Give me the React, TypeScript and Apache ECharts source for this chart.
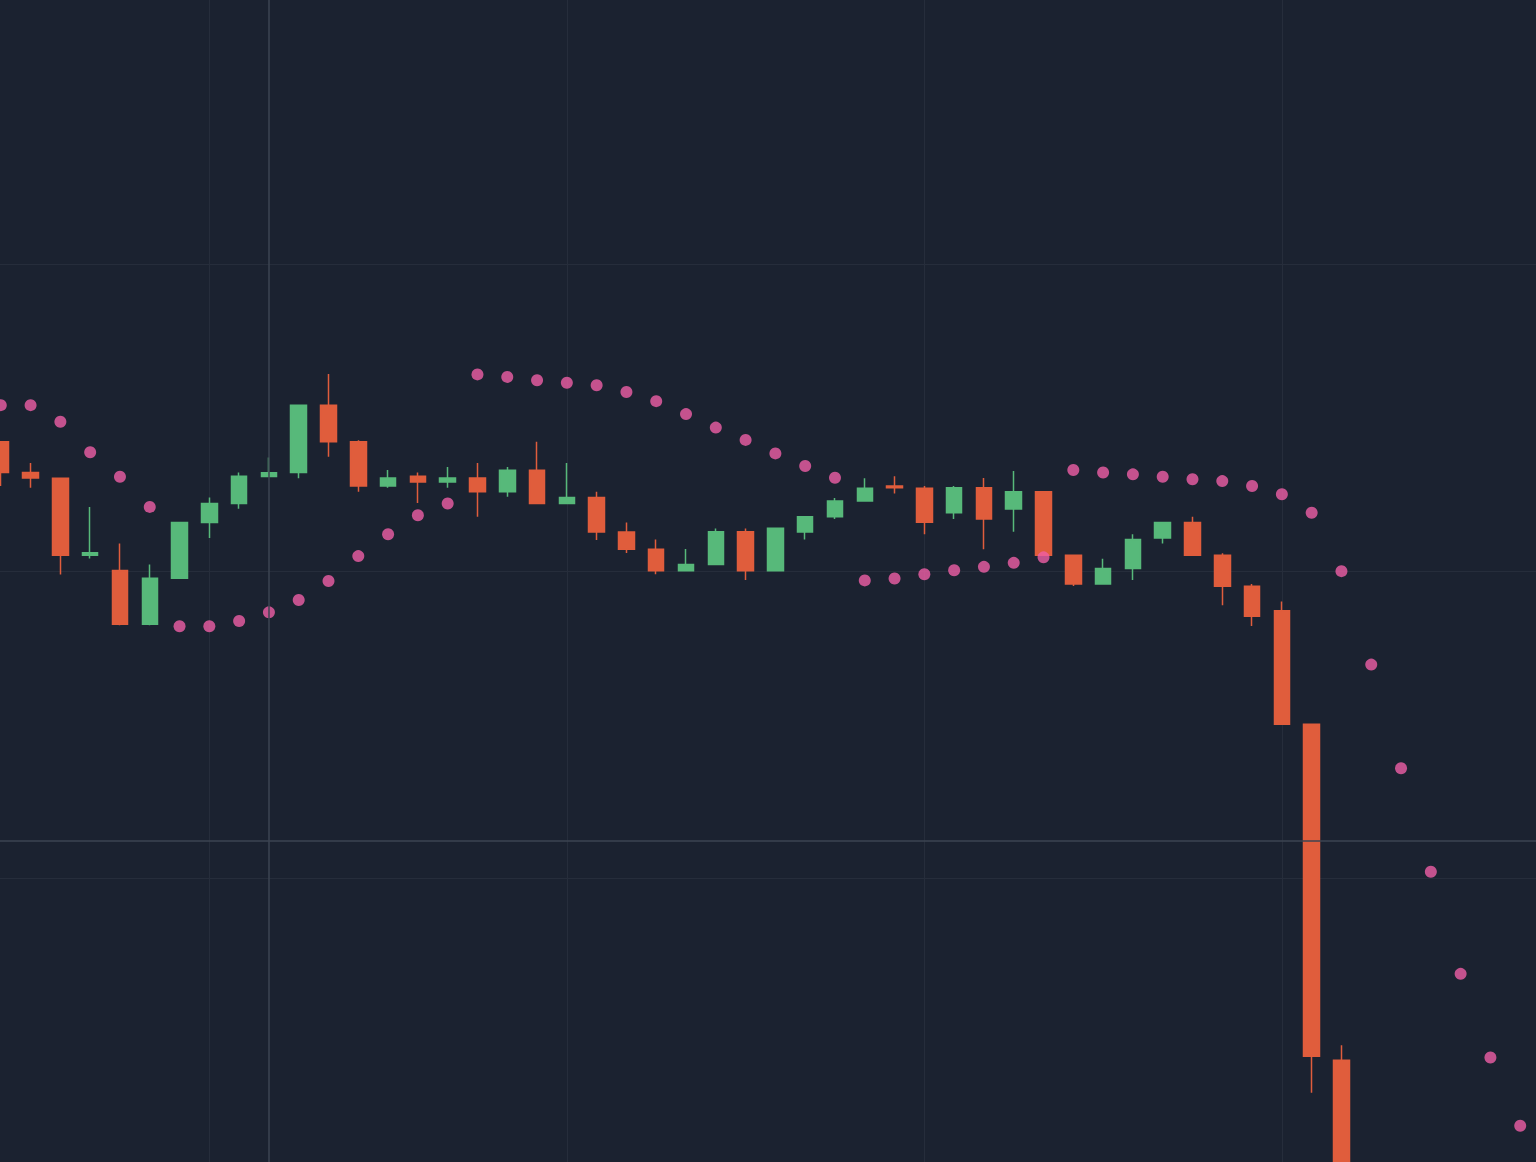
import React, { useEffect, useRef } from 'react';
import * as echarts from 'echarts';

// day labels, one per candle / SAR point
const categories = [
  '04-10', '04-11', '04-12', '04-13', '04-14', '04-15', '04-16', '04-17', '04-18', '04-19',
  '04-20', '04-21', '04-22', '04-23', '04-24', '04-25', '04-26', '04-27', '04-28', '04-29',
  '04-30', '05-01', '05-02', '05-03', '05-04', '05-05', '05-06', '05-07', '05-08', '05-09',
  '05-10', '05-11', '05-12', '05-13', '05-14', '05-15', '05-16', '05-17', '05-18', '05-19',
  '05-20', '05-21', '05-22', '05-23', '05-24', '05-25', '05-26', '05-27', '05-28', '05-29',
  '05-30', '05-31',
];

// [open, close, low, high]
const candles = [
  [104.21, 103.21, 102.77, 104.21],
  [103.21, 103.03, 102.71, 103.52],
  [103.02, 100.52, 99.89, 103.02],
  [100.52, 100.6, 100.41, 102.09],
  [100.02, 98.27, 98.24, 100.9],
  [98.27, 99.77, 98.24, 100.22],
  [99.77, 101.58, 99.77, 101.58],
  [101.58, 102.2, 101.08, 102.4],
  [102.2, 103.09, 102.03, 103.21],
  [103.08, 103.2, 103.08, 103.7],
  [103.21, 105.4, 103.02, 105.4],
  [105.4, 104.21, 103.72, 106.41],
  [104.21, 102.77, 102.58, 104.26],
  [102.77, 103.03, 102.71, 103.29],
  [103.09, 102.9, 102.22, 103.21],
  [102.9, 103.03, 102.71, 103.39],
  [103.03, 102.58, 101.77, 103.52],
  [102.58, 103.28, 102.42, 103.39],
  [103.28, 102.2, 102.2, 104.21],
  [102.2, 102.4, 102.2, 103.52],
  [102.4, 101.27, 101.01, 102.58],
  [101.27, 100.71, 100.59, 101.58],
  [100.71, 100.01, 99.9, 101.03],
  [100.01, 100.22, 100.01, 100.72],
  [100.22, 101.28, 100.22, 101.39],
  [101.28, 100.01, 99.71, 101.39],
  [100.01, 101.4, 100.01, 101.4],
  [101.27, 101.77, 101.03, 101.77],
  [101.77, 102.28, 101.7, 102.38],
  [102.28, 102.7, 102.28, 103.02],
  [102.77, 102.71, 102.53, 103.09],
  [102.7, 101.59, 101.2, 102.77],
  [101.9, 102.71, 101.7, 102.77],
  [102.71, 101.7, 100.71, 103.03],
  [102.02, 102.58, 101.28, 103.26],
  [102.58, 100.52, 100.52, 102.58],
  [100.52, 99.58, 99.52, 100.52],
  [99.58, 100.09, 99.58, 100.4],
  [100.09, 101.03, 99.71, 101.2],
  [101.08, 101.58, 100.9, 101.58],
  [101.58, 100.52, 100.52, 101.77],
  [100.52, 99.51, 98.89, 100.58],
  [99.51, 98.53, 98.22, 99.58],
  [98.71, 95.02, 95.02, 99.01],
  [95.02, 84.22, 83.03, 95.02],
  [84.09, 78.4, 77.9, 84.58],
];

// parabolic SAR
const sarValues = [
  105.4, 105.4, 104.86, 103.87, 103.07, 102.09, 98.21, 98.21, 98.38, 98.66,
  99.06, 99.68, 100.49, 101.2, 101.82, 102.2, 106.4, 106.32, 106.21, 106.13,
  106.05, 105.83, 105.53, 105.11, 104.67, 104.27, 103.83, 103.42, 103.04, 99.7,
  99.76, 99.9, 100.03, 100.14, 100.27, 100.45, 103.29, 103.21, 103.15, 103.07,
  102.99, 102.93, 102.77, 102.5, 101.9, 100.0, 96.96, 93.59, 90.22, 86.9,
  84.18, 81.96,
];

// crosshair position
const crossIndex = 9;
const crossPrice = 91.22;

const UP = '#57b97a';
const DOWN = '#e05d3c';
const BG = '#1b2230';

export default function App() {
  const ref = useRef<HTMLDivElement>(null);

  useEffect(() => {
    document.body.style.margin = '0';
    document.body.style.overflow = 'hidden';
    document.body.style.background = BG;
    if (!ref.current) return;
    const chart = echarts.init(ref.current, undefined, { renderer: 'svg' });

    // one empty slot on each side so grid lines run past the page edges
    const xData = ['', ...categories, ' '];

    chart.setOption({
      animation: false,
      backgroundColor: BG,
      grid: { left: 0, right: 0, top: 0, bottom: 0, containLabel: false },
      xAxis: {
        type: 'category',
        data: xData,
        boundaryGap: false,
        axisLine: { show: false },
        axisTick: { show: false },
        axisLabel: { show: false },
        splitLine: {
          show: true,
          interval: (idx: number) => idx % 12 === 8,
          lineStyle: { color: '#262d3b', width: 1 },
        },
      },
      yAxis: {
        type: 'value',
        min: 80.65,
        max: 118.71,
        axisLine: { show: false },
        axisTick: { show: false },
        axisLabel: { show: false },
        splitLine: { show: true, lineStyle: { color: '#262d3b', width: 1 } },
      },
      series: [
        {
          type: 'candlestick',
          data: ['-', ...candles],
          clip: false,
          barWidth: 16,
          itemStyle: {
            color: UP,
            color0: DOWN,
            borderColor: UP,
            borderColor0: DOWN,
            borderWidth: 1.5,
          },
        },
        {
          type: 'scatter',
          data: ['-', ...sarValues],
          clip: false,
          symbol: 'circle',
          symbolSize: 12,
          itemStyle: { color: '#ef5fa6' },
          z: 3,
          markLine: {
            silent: true,
            symbol: ['none', 'none'],
            label: { show: false },
            lineStyle: { color: '#3d4452', width: 1.5, type: 'solid' },
            data: [{ xAxis: categories[crossIndex] }, { yAxis: crossPrice }],
          },
        },
      ],
    });

    return () => chart.dispose();
  }, []);

  // chart box sticks out past the page edges so the plot runs edge to edge
  return (
    <div
      ref={ref}
      style={{ position: 'absolute', left: -29, top: -4, width: 1579, height: 1170 }}
    />
  );
}
